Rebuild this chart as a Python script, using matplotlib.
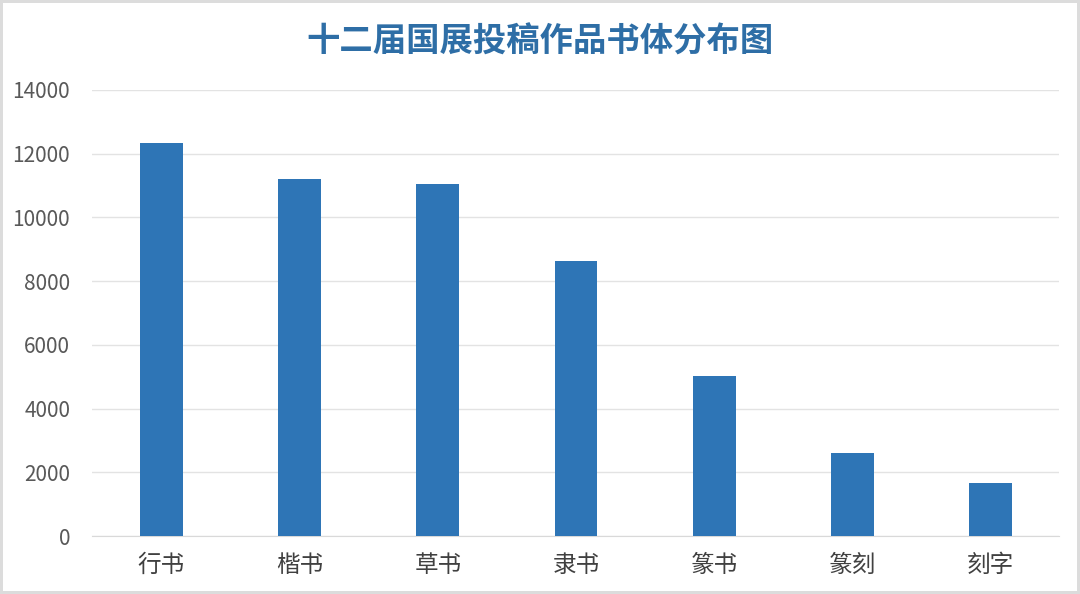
import matplotlib.pyplot as plt

plt.rcParams['font.family'] = ['Noto Sans CJK SC', 'DejaVu Sans']

# Data
categories = ['行书', '楷书', '草书', '隶书', '篆书', '篆刻', '刻字']
counts = [12340, 11210, 11050, 8630, 5020, 2620, 1670]
yticks = [0, 2000, 4000, 6000, 8000, 10000, 12000, 14000]

fig = plt.figure(figsize=(10.8, 5.94), dpi=100)
fig.patch.set_edgecolor('#dcdcdc')
fig.patch.set_linewidth(4)
ax = fig.add_axes([0.0856, 0.0976, 0.8954, 0.7509])

# Bars
ax.bar(range(len(categories)), counts, width=0.31, color='#2E75B6', zorder=3)

# Axes and grid
ax.set_xlim(-0.5, len(categories) - 0.5)
ax.set_ylim(0, 14000)
ax.set_yticks(yticks)
ax.set_xticks(range(len(categories)))
ax.set_xticklabels(categories, fontsize=17, color='#404040')
ax.tick_params(axis='y', length=0, pad=16, labelsize=15, labelcolor='#595959')
ax.tick_params(axis='x', length=0, pad=13)
ax.grid(axis='y', color='#e3e3e3', linewidth=1, zorder=0)
for side in ['top', 'right', 'left']:
    ax.spines[side].set_visible(False)
ax.spines['bottom'].set_color('#d9d9d9')

# Title
fig.text(0.5, 0.93, '十二届国展投稿作品书体分布图', ha='center', va='center',
         fontsize=24, fontweight='bold', color='#2E6EA6')

fig.savefig('out.png', dpi=100, edgecolor=fig.get_edgecolor())
